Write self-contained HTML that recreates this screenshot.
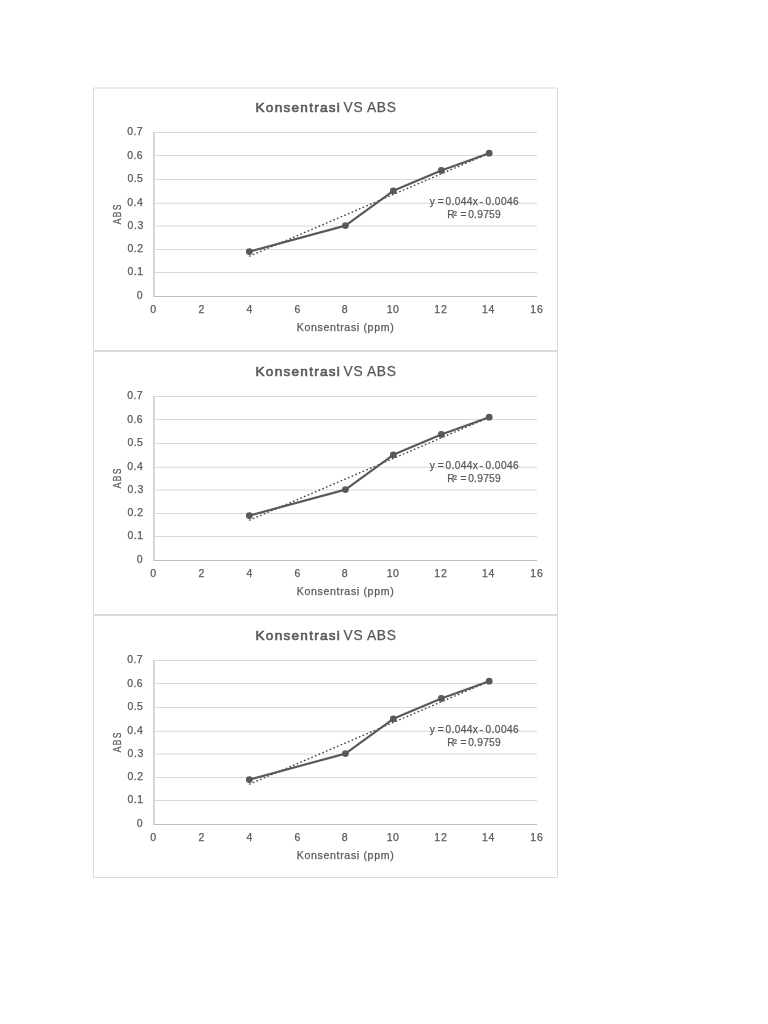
<!DOCTYPE html>
<html><head><meta charset="utf-8"><style>
html,body{margin:0;padding:0;background:#fff;width:768px;height:1024px;overflow:hidden}
svg{display:block;will-change:transform}
text{font-family:"Liberation Sans",sans-serif;fill:#595959;stroke:#595959;stroke-width:0.25px;}
</style></head><body>
<svg width="768" height="1024" viewBox="0 0 768 1024">
<path d="M93.5 88.0V350.5H557.5V88.0Z" fill="none" stroke="#d9d9d9" stroke-width="1"/>
<line x1="154" y1="132.5" x2="537" y2="132.5" stroke="#d9d9d9" stroke-width="1"/>
<line x1="154" y1="155.5" x2="537" y2="155.5" stroke="#d9d9d9" stroke-width="1"/>
<line x1="154" y1="179.5" x2="537" y2="179.5" stroke="#d9d9d9" stroke-width="1"/>
<line x1="154" y1="203.3" x2="537" y2="203.3" stroke="#d9d9d9" stroke-width="1"/>
<line x1="154" y1="226.0" x2="537" y2="226.0" stroke="#d9d9d9" stroke-width="1"/>
<line x1="154" y1="249.5" x2="537" y2="249.5" stroke="#d9d9d9" stroke-width="1"/>
<line x1="154" y1="272.6" x2="537" y2="272.6" stroke="#d9d9d9" stroke-width="1"/>
<line x1="153.5" y1="132" x2="153.5" y2="296" stroke="#d0d0d0" stroke-width="1"/>
<line x1="154.5" y1="132" x2="154.5" y2="296" stroke="#dadada" stroke-width="1"/>
<line x1="153.5" y1="296.5" x2="537" y2="296.5" stroke="#bfbfbf" stroke-width="1"/>
<text x="142.48" y="299.44" font-size="10.5" text-anchor="end">0</text>
<text x="127.47" y="275.35" font-size="10.5" textLength="15.72" lengthAdjust="spacing">0.1</text>
<text x="127.48" y="252.35" font-size="10.5" textLength="15.69" lengthAdjust="spacing">0.2</text>
<text x="127.48" y="229.15" font-size="10.5" textLength="15.74" lengthAdjust="spacing">0.3</text>
<text x="127.29" y="206.05" font-size="10.5" textLength="15.52" lengthAdjust="spacing">0.4</text>
<text x="127.39" y="182.20" font-size="10.5" textLength="15.53" lengthAdjust="spacing">0.5</text>
<text x="127.26" y="159.45" font-size="10.5" textLength="15.27" lengthAdjust="spacing">0.6</text>
<text x="127.32" y="135.25" font-size="10.5" textLength="15.21" lengthAdjust="spacing">0.7</text>
<text x="153.13" y="313.20" font-size="10.5" text-anchor="middle">0</text>
<text x="201.34" y="313.20" font-size="10.5" text-anchor="middle">2</text>
<text x="249.42" y="313.20" font-size="10.5" text-anchor="middle">4</text>
<text x="297.42" y="313.20" font-size="10.5" text-anchor="middle">6</text>
<text x="344.72" y="313.20" font-size="10.5" text-anchor="middle">8</text>
<text x="386.65" y="313.20" font-size="10.5" textLength="12.22" lengthAdjust="spacing">10</text>
<text x="434.19" y="313.20" font-size="10.5" textLength="12.66" lengthAdjust="spacing">12</text>
<text x="482.11" y="313.20" font-size="10.5" textLength="12.11" lengthAdjust="spacing">14</text>
<text x="530.15" y="313.20" font-size="10.5" textLength="12.57" lengthAdjust="spacing">16</text>
<text x="255.50" y="111.70" font-size="13.6" style="stroke-width:0.62px" textLength="84.40" lengthAdjust="spacing">Konsentrasi</text>
<text x="343.59" y="112.39" font-size="13.8" textLength="52.26" lengthAdjust="spacing">VS ABS</text>
<text x="296.78" y="331.44" font-size="10.6" textLength="96.90" lengthAdjust="spacing">Konsentrasi (ppm)</text>
<text transform="translate(121.41,224.31) rotate(-90) scale(0.8,1)" font-size="10.6" textLength="24.56" lengthAdjust="spacing">ABS</text>
<line x1="249.6" y1="256.1" x2="489.4" y2="153.2" stroke="#474747" stroke-width="1.45" stroke-dasharray="0.5 3.486" stroke-linecap="round"/>
<polyline points="249.3,251.6 345.4,225.6 393.3,190.8 441.3,170.4 489.2,153.2" fill="none" stroke="#595959" stroke-width="2.15" stroke-linejoin="round"/>
<circle cx="249.3" cy="251.6" r="3.4" fill="#595959"/>
<circle cx="345.4" cy="225.6" r="3.4" fill="#595959"/>
<circle cx="393.3" cy="190.8" r="3.4" fill="#595959"/>
<circle cx="441.3" cy="170.4" r="3.4" fill="#595959"/>
<circle cx="489.2" cy="153.2" r="3.4" fill="#595959"/>
<text x="429.70" y="204.90" font-size="10.2">y</text>
<text x="437.68" y="204.90" font-size="10.2">=</text>
<text x="445.54" y="204.90" font-size="10.2" textLength="32.42" lengthAdjust="spacing">0.044x</text>
<text x="479.50" y="204.90" font-size="10.2">-</text>
<text x="485.52" y="204.90" font-size="10.2" textLength="33.27" lengthAdjust="spacing">0.0046</text>
<text x="447.15" y="218.00" font-size="10.2" textLength="9.80" lengthAdjust="spacing">R²</text>
<text x="460.55" y="218.00" font-size="10.2">=</text>
<text x="468.15" y="218.00" font-size="10.2" textLength="32.52" lengthAdjust="spacing">0.9759</text>
<path d="M93.5 351.5V614.5H557.5V351.5Z" fill="none" stroke="#d9d9d9" stroke-width="1"/>
<line x1="154" y1="396.5" x2="537" y2="396.5" stroke="#d9d9d9" stroke-width="1"/>
<line x1="154" y1="419.5" x2="537" y2="419.5" stroke="#d9d9d9" stroke-width="1"/>
<line x1="154" y1="443.5" x2="537" y2="443.5" stroke="#d9d9d9" stroke-width="1"/>
<line x1="154" y1="467.3" x2="537" y2="467.3" stroke="#d9d9d9" stroke-width="1"/>
<line x1="154" y1="490.0" x2="537" y2="490.0" stroke="#d9d9d9" stroke-width="1"/>
<line x1="154" y1="513.5" x2="537" y2="513.5" stroke="#d9d9d9" stroke-width="1"/>
<line x1="154" y1="536.6" x2="537" y2="536.6" stroke="#d9d9d9" stroke-width="1"/>
<line x1="153.5" y1="396" x2="153.5" y2="560" stroke="#d0d0d0" stroke-width="1"/>
<line x1="154.5" y1="396" x2="154.5" y2="560" stroke="#dadada" stroke-width="1"/>
<line x1="153.5" y1="560.5" x2="537" y2="560.5" stroke="#bfbfbf" stroke-width="1"/>
<text x="142.48" y="563.44" font-size="10.5" text-anchor="end">0</text>
<text x="127.47" y="539.35" font-size="10.5" textLength="15.72" lengthAdjust="spacing">0.1</text>
<text x="127.48" y="516.35" font-size="10.5" textLength="15.69" lengthAdjust="spacing">0.2</text>
<text x="127.48" y="493.15" font-size="10.5" textLength="15.74" lengthAdjust="spacing">0.3</text>
<text x="127.29" y="470.05" font-size="10.5" textLength="15.52" lengthAdjust="spacing">0.4</text>
<text x="127.39" y="446.20" font-size="10.5" textLength="15.53" lengthAdjust="spacing">0.5</text>
<text x="127.26" y="423.45" font-size="10.5" textLength="15.27" lengthAdjust="spacing">0.6</text>
<text x="127.32" y="399.25" font-size="10.5" textLength="15.21" lengthAdjust="spacing">0.7</text>
<text x="153.13" y="577.20" font-size="10.5" text-anchor="middle">0</text>
<text x="201.34" y="577.20" font-size="10.5" text-anchor="middle">2</text>
<text x="249.42" y="577.20" font-size="10.5" text-anchor="middle">4</text>
<text x="297.42" y="577.20" font-size="10.5" text-anchor="middle">6</text>
<text x="344.72" y="577.20" font-size="10.5" text-anchor="middle">8</text>
<text x="386.65" y="577.20" font-size="10.5" textLength="12.22" lengthAdjust="spacing">10</text>
<text x="434.19" y="577.20" font-size="10.5" textLength="12.66" lengthAdjust="spacing">12</text>
<text x="482.11" y="577.20" font-size="10.5" textLength="12.11" lengthAdjust="spacing">14</text>
<text x="530.15" y="577.20" font-size="10.5" textLength="12.57" lengthAdjust="spacing">16</text>
<text x="255.50" y="375.70" font-size="13.6" style="stroke-width:0.62px" textLength="84.40" lengthAdjust="spacing">Konsentrasi</text>
<text x="343.59" y="376.39" font-size="13.8" textLength="52.26" lengthAdjust="spacing">VS ABS</text>
<text x="296.78" y="595.44" font-size="10.6" textLength="96.90" lengthAdjust="spacing">Konsentrasi (ppm)</text>
<text transform="translate(121.41,488.31) rotate(-90) scale(0.8,1)" font-size="10.6" textLength="24.56" lengthAdjust="spacing">ABS</text>
<line x1="249.6" y1="520.1" x2="489.4" y2="417.2" stroke="#474747" stroke-width="1.45" stroke-dasharray="0.5 3.486" stroke-linecap="round"/>
<polyline points="249.3,515.6 345.4,489.6 393.3,454.8 441.3,434.4 489.2,417.2" fill="none" stroke="#595959" stroke-width="2.15" stroke-linejoin="round"/>
<circle cx="249.3" cy="515.6" r="3.4" fill="#595959"/>
<circle cx="345.4" cy="489.6" r="3.4" fill="#595959"/>
<circle cx="393.3" cy="454.8" r="3.4" fill="#595959"/>
<circle cx="441.3" cy="434.4" r="3.4" fill="#595959"/>
<circle cx="489.2" cy="417.2" r="3.4" fill="#595959"/>
<text x="429.70" y="468.90" font-size="10.2">y</text>
<text x="437.68" y="468.90" font-size="10.2">=</text>
<text x="445.54" y="468.90" font-size="10.2" textLength="32.42" lengthAdjust="spacing">0.044x</text>
<text x="479.50" y="468.90" font-size="10.2">-</text>
<text x="485.52" y="468.90" font-size="10.2" textLength="33.27" lengthAdjust="spacing">0.0046</text>
<text x="447.15" y="482.00" font-size="10.2" textLength="9.80" lengthAdjust="spacing">R²</text>
<text x="460.55" y="482.00" font-size="10.2">=</text>
<text x="468.15" y="482.00" font-size="10.2" textLength="32.52" lengthAdjust="spacing">0.9759</text>
<path d="M93.5 615.5V877.5H557.5V615.5Z" fill="none" stroke="#d9d9d9" stroke-width="1"/>
<line x1="154" y1="660.5" x2="537" y2="660.5" stroke="#d9d9d9" stroke-width="1"/>
<line x1="154" y1="683.5" x2="537" y2="683.5" stroke="#d9d9d9" stroke-width="1"/>
<line x1="154" y1="707.5" x2="537" y2="707.5" stroke="#d9d9d9" stroke-width="1"/>
<line x1="154" y1="731.3" x2="537" y2="731.3" stroke="#d9d9d9" stroke-width="1"/>
<line x1="154" y1="754.0" x2="537" y2="754.0" stroke="#d9d9d9" stroke-width="1"/>
<line x1="154" y1="777.5" x2="537" y2="777.5" stroke="#d9d9d9" stroke-width="1"/>
<line x1="154" y1="800.6" x2="537" y2="800.6" stroke="#d9d9d9" stroke-width="1"/>
<line x1="153.5" y1="660" x2="153.5" y2="824" stroke="#d0d0d0" stroke-width="1"/>
<line x1="154.5" y1="660" x2="154.5" y2="824" stroke="#dadada" stroke-width="1"/>
<line x1="153.5" y1="824.5" x2="537" y2="824.5" stroke="#bfbfbf" stroke-width="1"/>
<text x="142.48" y="827.44" font-size="10.5" text-anchor="end">0</text>
<text x="127.47" y="803.35" font-size="10.5" textLength="15.72" lengthAdjust="spacing">0.1</text>
<text x="127.48" y="780.35" font-size="10.5" textLength="15.69" lengthAdjust="spacing">0.2</text>
<text x="127.48" y="757.15" font-size="10.5" textLength="15.74" lengthAdjust="spacing">0.3</text>
<text x="127.29" y="734.05" font-size="10.5" textLength="15.52" lengthAdjust="spacing">0.4</text>
<text x="127.39" y="710.20" font-size="10.5" textLength="15.53" lengthAdjust="spacing">0.5</text>
<text x="127.26" y="687.45" font-size="10.5" textLength="15.27" lengthAdjust="spacing">0.6</text>
<text x="127.32" y="663.25" font-size="10.5" textLength="15.21" lengthAdjust="spacing">0.7</text>
<text x="153.13" y="841.20" font-size="10.5" text-anchor="middle">0</text>
<text x="201.34" y="841.20" font-size="10.5" text-anchor="middle">2</text>
<text x="249.42" y="841.20" font-size="10.5" text-anchor="middle">4</text>
<text x="297.42" y="841.20" font-size="10.5" text-anchor="middle">6</text>
<text x="344.72" y="841.20" font-size="10.5" text-anchor="middle">8</text>
<text x="386.65" y="841.20" font-size="10.5" textLength="12.22" lengthAdjust="spacing">10</text>
<text x="434.19" y="841.20" font-size="10.5" textLength="12.66" lengthAdjust="spacing">12</text>
<text x="482.11" y="841.20" font-size="10.5" textLength="12.11" lengthAdjust="spacing">14</text>
<text x="530.15" y="841.20" font-size="10.5" textLength="12.57" lengthAdjust="spacing">16</text>
<text x="255.50" y="639.70" font-size="13.6" style="stroke-width:0.62px" textLength="84.40" lengthAdjust="spacing">Konsentrasi</text>
<text x="343.59" y="640.39" font-size="13.8" textLength="52.26" lengthAdjust="spacing">VS ABS</text>
<text x="296.78" y="859.44" font-size="10.6" textLength="96.90" lengthAdjust="spacing">Konsentrasi (ppm)</text>
<text transform="translate(121.41,752.31) rotate(-90) scale(0.8,1)" font-size="10.6" textLength="24.56" lengthAdjust="spacing">ABS</text>
<line x1="249.6" y1="784.1" x2="489.4" y2="681.2" stroke="#474747" stroke-width="1.45" stroke-dasharray="0.5 3.486" stroke-linecap="round"/>
<polyline points="249.3,779.6 345.4,753.6 393.3,718.8 441.3,698.4 489.2,681.2" fill="none" stroke="#595959" stroke-width="2.15" stroke-linejoin="round"/>
<circle cx="249.3" cy="779.6" r="3.4" fill="#595959"/>
<circle cx="345.4" cy="753.6" r="3.4" fill="#595959"/>
<circle cx="393.3" cy="718.8" r="3.4" fill="#595959"/>
<circle cx="441.3" cy="698.4" r="3.4" fill="#595959"/>
<circle cx="489.2" cy="681.2" r="3.4" fill="#595959"/>
<text x="429.70" y="732.90" font-size="10.2">y</text>
<text x="437.68" y="732.90" font-size="10.2">=</text>
<text x="445.54" y="732.90" font-size="10.2" textLength="32.42" lengthAdjust="spacing">0.044x</text>
<text x="479.50" y="732.90" font-size="10.2">-</text>
<text x="485.52" y="732.90" font-size="10.2" textLength="33.27" lengthAdjust="spacing">0.0046</text>
<text x="447.15" y="746.00" font-size="10.2" textLength="9.80" lengthAdjust="spacing">R²</text>
<text x="460.55" y="746.00" font-size="10.2">=</text>
<text x="468.15" y="746.00" font-size="10.2" textLength="32.52" lengthAdjust="spacing">0.9759</text>
</svg>
</body></html>
